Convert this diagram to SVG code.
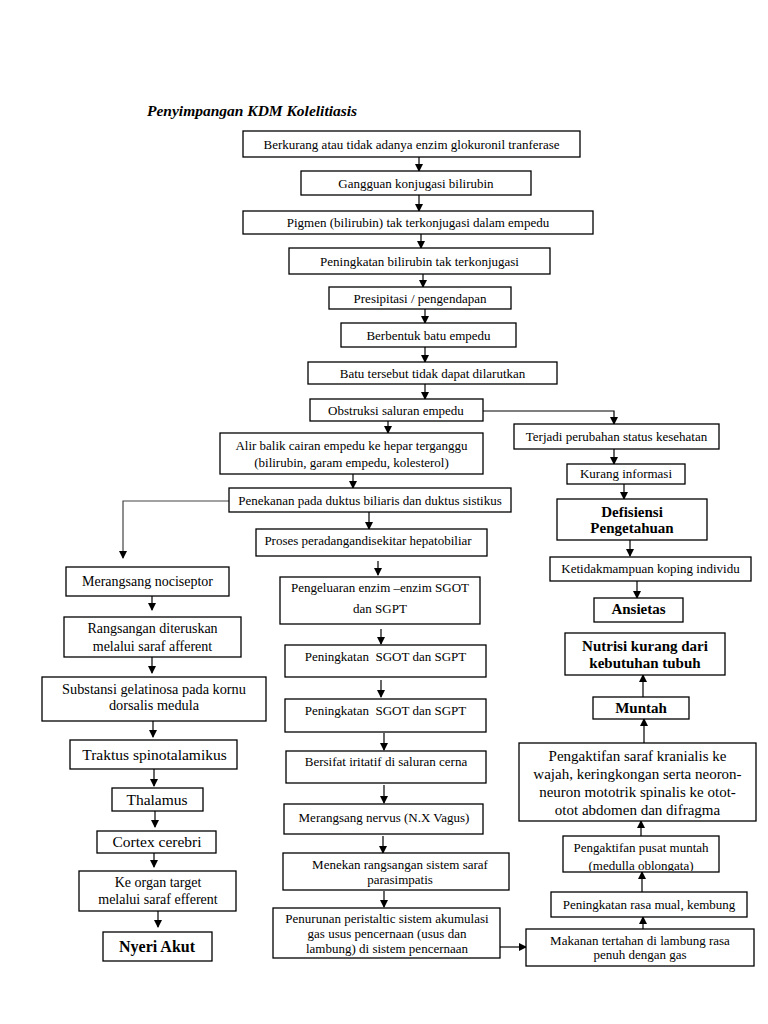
<svg xmlns="http://www.w3.org/2000/svg" width="768" height="1024" viewBox="0 0 768 1024">
<style>
.b{fill:#fff;stroke:#000;stroke-width:1.3}
text{font-family:"Liberation Serif","Times New Roman",serif;fill:#000;text-anchor:middle}
.s{font-size:13px}
.l{font-size:14px}
.xl{font-size:15.5px}
.bd{font-size:15px;font-weight:bold}
.c{fill:none;stroke:#000;stroke-width:1.2;marker-end:url(#ah)}
</style>
<defs>
<marker id="ah" markerUnits="userSpaceOnUse" markerWidth="8" markerHeight="8" refX="7" refY="4" orient="auto">
<path d="M0,0 L8,4 L0,8 z" fill="#000"/>
</marker>
<clipPath id="clip18"><rect x="563" y="836" width="156" height="35"/></clipPath>
</defs>
<rect width="768" height="1024" fill="#fff"/>
<text x="147" y="116" style="font-size:15.5px;font-weight:bold;font-style:italic;text-anchor:start">Penyimpangan KDM Kolelitiasis</text>

<g id="connectors">
<path class="c" d="M419,157 V171"/>
<path class="c" d="M419,195 V211"/>
<path class="c" d="M421,234 V248"/>
<path class="c" d="M423,274 V287"/>
<path class="c" d="M425,309 V323"/>
<path class="c" d="M425,347 V362"/>
<path class="c" d="M425,384 V399"/>
<path class="c" d="M388,421 V433"/>
<path class="c" d="M483,411 H614 V424"/>
<path class="c" d="M614,449 V464"/>
<path class="c" d="M624,484 V499"/>
<path class="c" d="M630,540 V556"/>
<path class="c" d="M637,581 V598"/>
<path class="c" d="M353,474 V488"/>
<path class="c" style="stroke:#444" d="M229,501 H123 V558"/>
<path class="c" d="M369,512 V529"/>
<path class="c" d="M378,561 V575"/>
<path class="c" d="M381,629 V644"/>
<path class="c" d="M381,680 V697"/>
<path class="c" d="M384,733 V750"/>
<path class="c" d="M384,785 V803"/>
<path class="c" d="M383,836 V853"/>
<path class="c" d="M384,891 V907"/>
<path class="c" d="M495,947 H526"/>
<path class="c" d="M643,929 V917"/>
<path class="c" d="M642,892 V872"/>
<path class="c" d="M641,836 V821"/>
<path class="c" d="M644,743 V719"/>
<path class="c" d="M643,697 V675"/>
<path class="c" d="M152,596 V610"/>
<path class="c" d="M152,657 V673"/>
<path class="c" d="M153,721 V737"/>
<path class="c" d="M154,769 V786"/>
<path class="c" d="M155,811 V827"/>
<path class="c" d="M154,853 V867"/>
<path class="c" d="M158,911 V927"/>
</g>

<g id="n1"><rect class="b" x="243" y="131" width="337" height="26"/><text class="s" x="411.5" y="148.5">Berkurang atau tidak adanya enzim glokuronil tranferase</text></g>
<g id="n2"><rect class="b" x="301" y="171" width="230" height="24"/><text class="s" x="416" y="187.5">Gangguan konjugasi bilirubin</text></g>
<g id="n3"><rect class="b" x="243" y="211" width="350" height="23"/><text class="s" x="418" y="227">Pigmen (bilirubin) tak terkonjugasi dalam empedu</text></g>
<g id="n4"><rect class="b" x="289" y="248" width="261" height="26"/><text class="s" x="419.5" y="265.5">Peningkatan bilirubin tak terkonjugasi</text></g>
<g id="n5"><rect class="b" x="329" y="287" width="182" height="22"/><text class="s" x="420" y="302.5">Presipitasi / pengendapan</text></g>
<g id="n6"><rect class="b" x="341" y="323" width="175" height="24"/><text class="s" x="428.5" y="339.5">Berbentuk batu empedu</text></g>
<g id="n7"><rect class="b" x="308" y="362" width="249" height="22"/><text class="s" x="432.5" y="377.5">Batu tersebut tidak dapat dilarutkan</text></g>
<g id="n8"><rect class="b" x="310" y="399" width="173" height="22"/><text class="s" x="396" y="414.5">Obstruksi saluran empedu</text></g>
<g id="n9"><rect class="b" x="220" y="433" width="263" height="41"/><text class="s" x="351.5" y="450">Alir balik cairan empedu ke hepar terganggu</text><text class="s" x="351.5" y="467">(bilirubin, garam empedu, kolesterol)</text></g>
<g id="n10"><rect class="b" x="514" y="424" width="205" height="25"/><text class="s" x="616.5" y="441">Terjadi perubahan status kesehatan</text></g>
<g id="n11"><rect class="b" x="567" y="464" width="118" height="20"/><text class="s" x="626" y="478">Kurang informasi</text></g>
<g id="n12"><rect class="b" x="557" y="499" width="150" height="41"/><text class="bd" x="632" y="517">Defisiensi</text><text class="bd" x="632" y="533">Pengetahuan</text></g>
<g id="n13"><rect class="b" x="550" y="557" width="201" height="24"/><text class="s" x="650.5" y="573">Ketidakmampuan koping individu</text></g>
<g id="n14"><rect class="b" x="594" y="598" width="89" height="24"/><text class="bd" x="638.5" y="614">Ansietas</text></g>
<g id="n15"><rect class="b" x="565" y="633" width="160" height="42"/><text class="bd" x="645" y="651">Nutrisi kurang dari</text><text class="bd" x="645" y="668">kebutuhan tubuh</text></g>
<g id="n16"><rect class="b" x="593" y="697" width="96" height="22"/><text class="bd" x="641" y="713">Muntah</text></g>
<g id="n17"><rect class="b" x="519" y="743" width="237" height="78"/><text style="font-size:15px" x="637.5" y="761">Pengaktifan saraf kranialis ke</text><text style="font-size:15px" x="637.5" y="779">wajah, keringkongan serta neoron-</text><text style="font-size:15px" x="637.5" y="797">neuron mototrik spinalis ke otot-</text><text style="font-size:15px" x="637.5" y="815">otot abdomen dan difragma</text></g>
<g id="n18"><rect class="b" x="563" y="836" width="156" height="36"/><text class="s" x="641" y="852">Pengaktifan pusat muntah</text><text class="s" x="641" y="870" clip-path="url(#clip18)">(medulla oblongata)</text></g>
<g id="n19"><rect class="b" x="551" y="892" width="196" height="25"/><text class="s" x="649" y="909">Peningkatan rasa mual, kembung</text></g>
<g id="n20"><rect class="b" x="526" y="929" width="228" height="37"/><text class="s" x="640" y="945">Makanan tertahan di lambung rasa</text><text class="s" x="640" y="959">penuh dengan gas</text></g>

<g id="n21"><rect class="b" x="229" y="488" width="282" height="24"/><text class="s" x="370" y="504.5">Penekanan pada duktus biliaris dan duktus sistikus</text></g>
<g id="n22"><rect class="b" x="256" y="529" width="231" height="27"/><text class="s" x="368" y="545">Proses peradangandisekitar hepatobiliar</text></g>
<g id="n23"><rect class="b" x="280" y="577" width="200" height="47"/><text class="s" x="380" y="592">Pengeluaran enzim –enzim SGOT</text><text class="s" x="380" y="613">dan SGPT</text></g>
<g id="n24"><rect class="b" x="285" y="645" width="201" height="32"/><text class="s" x="385.5" y="661" xml:space="preserve">Peningkatan  SGOT dan SGPT</text></g>
<g id="n25"><rect class="b" x="285" y="699" width="201" height="33"/><text class="s" x="385.5" y="715" xml:space="preserve">Peningkatan  SGOT dan SGPT</text></g>
<g id="n26"><rect class="b" x="286" y="751" width="200" height="32"/><text class="s" x="386" y="766">Bersifat iritatif di saluran cerna</text></g>
<g id="n27"><rect class="b" x="284" y="804" width="199" height="30"/><text class="s" x="384" y="822">Merangsang nervus (N.X Vagus)</text></g>
<g id="n28"><rect class="b" x="283" y="853" width="226" height="37"/><text class="s" x="400" y="869">Menekan rangsangan sistem saraf</text><text class="s" x="400" y="884">parasimpatis</text></g>
<g id="n29"><rect class="b" x="273" y="908" width="227" height="50"/><text class="s" x="387" y="923">Penurunan peristaltic sistem akumulasi</text><text class="s" x="387" y="938">gas usus pencernaan (usus dan</text><text class="s" x="387" y="953">lambung) di sistem pencernaan</text></g>

<g id="n30"><rect class="b" x="66" y="567" width="163" height="29"/><text class="l" x="147.5" y="586">Merangsang nociseptor</text></g>
<g id="n31"><rect class="b" x="64" y="617" width="177" height="40"/><text class="l" x="152.5" y="633">Rangsangan diteruskan</text><text class="l" x="152.5" y="651">melalui saraf afferent</text></g>
<g id="n32"><rect class="b" x="42" y="677" width="224" height="44"/><text style="font-size:14.3px" x="154" y="694">Substansi gelatinosa pada kornu</text><text style="font-size:14.3px" x="154" y="710">dorsalis medula</text></g>
<g id="n33"><rect class="b" x="70" y="740" width="167" height="29"/><text class="xl" x="154.5" y="760">Traktus spinotalamikus</text></g>
<g id="n34"><rect class="b" x="112" y="788" width="91" height="23"/><text class="xl" x="157" y="805">Thalamus</text></g>
<g id="n35"><rect class="b" x="97" y="831" width="119" height="22"/><text class="xl" x="157" y="847">Cortex cerebri</text></g>
<g id="n36"><rect class="b" x="79" y="871" width="157" height="40"/><text class="l" x="158" y="887">Ke organ target</text><text class="l" x="158" y="904">melalui saraf efferent</text></g>
<g id="n37"><rect class="b" x="103" y="932" width="109" height="29"/><text x="157" y="952" style="font-size:16px;font-weight:bold">Nyeri Akut</text></g>
</svg>
